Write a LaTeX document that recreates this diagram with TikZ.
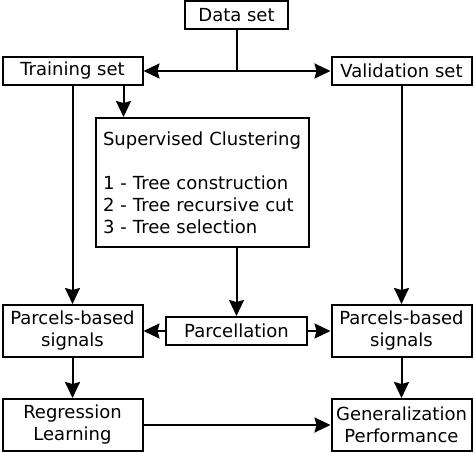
\documentclass[tikz,border=0pt]{standalone}
\usepackage{fontspec}
\setmainfont{DejaVu Sans}
\usetikzlibrary{arrows.meta}
\tikzset{box/.style={draw=black, line width=2pt, inner sep=0pt, align=center, font=\fontsize{18}{22}\selectfont},
	flow/.style={line width=2pt, -{Stealth[length=16pt,width=15pt,inset=2pt]}}}

\begin{document}
\begin{tikzpicture}[x=1pt,y=-1pt]
		\useasboundingbox (0,0) rectangle (474,452);
		\node[box, minimum width=103pt, minimum height=28pt] (D) at (236.5,15) {Data set};
		\node[box, minimum width=140pt, minimum height=28pt] (T) at (72.5,71) {Training set};
		\node[box, minimum width=140pt, minimum height=28pt] (V) at (401.5,71) {Validation set};
		\node[box, minimum width=213pt, minimum height=129pt, align=left, text width=199pt] (C) at (202.5,182.5) {Supervised Clustering\\[22pt]1 - Tree construction\\2 - Tree recursive cut\\3 - Tree selection};
		\node[box, minimum width=140pt, minimum height=52pt] (PL) at (72.5,331) {Parcels-based\\signals};
		\node[box, minimum width=141pt, minimum height=28pt] (P) at (236.5,331) {Parcellation};
		\node[box, minimum width=140pt, minimum height=52pt] (PR) at (401.5,331) {Parcels-based\\signals};
		\node[box, minimum width=140pt, minimum height=52pt] (R) at (72.5,425) {Regression\\Learning};
		\node[box, minimum width=140pt, minimum height=52pt] (G) at (401.5,425) {Generalization\\Performance};
		\coordinate (split) at (236.5,71);
		\draw[line width=2pt] (D) -- (split);
		\path [flow] (split) edge (T);
		\path [flow] (split) edge (V);
		\path [flow] ([xshift=51pt]T.south) edge ([xshift=51pt]T.south |- C.north);
		\path [flow] (T) edge (PL);
		\path [flow] (V) edge (PR);
		\path [flow] (C.south -| P.north) edge (P);
		\path [flow] (P) edge (PL);
		\path [flow] (P) edge (PR);
		\path [flow] (PL) edge (R);
		\path [flow] (PR) edge (G);
		\path [flow] (R) edge (G);
	\end{tikzpicture}
\end{document}
